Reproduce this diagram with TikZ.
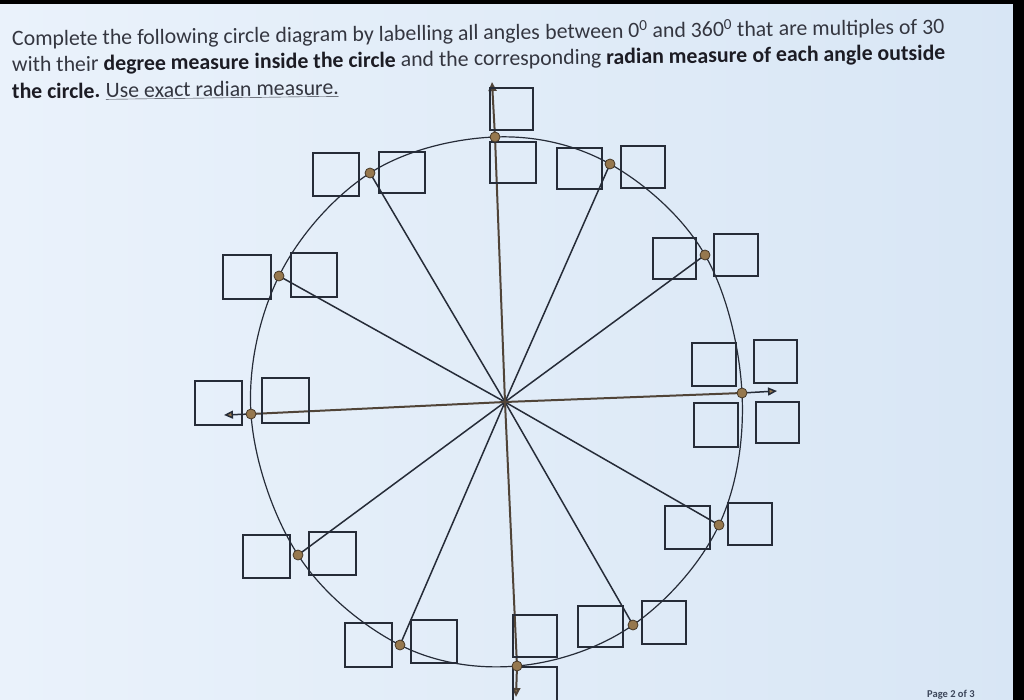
\documentclass[tikz,border=0pt]{standalone}
\usepackage{fontspec}
\setmainfont{Carlito}
\usetikzlibrary{arrows.meta}
\definecolor{paperL}{RGB}{234,242,251}
\definecolor{paperR}{RGB}{216,230,245}
\definecolor{inkN}{RGB}{52,54,64}
\definecolor{inkB}{RGB}{28,28,36}
\definecolor{lineC}{RGB}{38,44,56}
\definecolor{axisC}{RGB}{80,68,56}
\definecolor{dotF}{RGB}{150,120,78}
\definecolor{dotD}{RGB}{70,56,40}
\definecolor{pageC}{RGB}{60,70,90}
\tikzset{
  spoke/.style={draw=lineC, line width=1.5pt},
  rim/.style={draw=lineC, line width=1.2pt},
  axisline/.style={draw=axisC, line width=2pt},
  boxst/.style={draw=lineC, line width=2pt},
  dotst/.style={circle, fill=dotF, draw=dotD, line width=0.8pt, minimum size=10pt, inner sep=0pt},
  tipst/.style={-{Triangle[length=9pt,width=8pt,fill=dotF]}},
  txt/.style={anchor=base west, inner sep=0pt, rotate=0.75, font=\fontsize{21.8}{27}\selectfont, text=inkN},
  txtc/.style={txt, xshift=5pt}
}
\newcommand{\bd}[1]{\textbf{\color{inkB}#1}}
\begin{document}
\begin{tikzpicture}[x=1pt,y=-1pt]
\useasboundingbox (0,0) rectangle (1024,700);
\shade[left color=paperL, right color=paperR] (0,0) rectangle (1024,700);
\fill[black] (0,0) rectangle (1024,4);
\fill[black] (1013,0) rectangle (1024,700);

% text, line 1
\node[txt] (t1a) at (12,46) {Complete the following circle};
\node[txtc] (t1b) at (t1a.base east) {diagram by labelling all angles};
\node[txtc] (t1c) at (t1b.base east) {between 0\textsuperscript{0} and 360\textsuperscript{0} that};
\node[txtc] (t1d) at (t1c.base east) {are multiples of 30};
% line 2
\node[txt] (t2a) at (12,72) {with their \bd{degree measure}};
\node[txtc] (t2b) at (t2a.base east) {\bd{inside the circle} and the};
\node[txtc] (t2c) at (t2b.base east) {corresponding \bd{radian measure}};
\node[txtc] (t2d) at (t2c.base east) {\bd{of each angle outside}};
% line 3
\node[txt] (t3a) at (12,99) {\bd{the circle.}};
\node[txtc] (t3b) at (t3a.base east) {\underline{Use exact radian measure.}};

\node[anchor=base west, inner sep=0pt, font=\fontsize{10.5}{12}\selectfont\bfseries, text=pageC] (pg) at (927,697) {Page 2 of 3};

% points
\coordinate (c) at (505,402);
\coordinate (p0) at (742,393);
\coordinate (p30) at (705,255);
\coordinate (p60) at (610,164);
\coordinate (p90) at (495,137);
\coordinate (p120) at (370,173);
\coordinate (p150) at (279,276);
\coordinate (p180) at (251,414);
\coordinate (p210) at (298,555);
\coordinate (p240) at (400,645);
\coordinate (p270) at (517,666);
\coordinate (p300) at (633,625);
\coordinate (p330) at (719,525);
\coordinate (aT) at (492,82);
\coordinate (aB) at (516,697);
\coordinate (aL) at (224,415);
\coordinate (aR) at (777,391);

% rim
\draw[rim] plot[smooth cycle, tension=0.6] coordinates {(742,393) (705,255) (610,164) (495,137) (370,173) (279,276) (251,414) (298,555) (400,645) (517,666) (633,625) (719,525)};

% spokes
\foreach \a in {30,60,120,150,210,240,300,330} {\draw[spoke] (c) -- (p\a);}
% axes
\draw[axisline] (p90) -- (c) -- (p270);
\draw[axisline] (p180) -- (c) -- (p0);
\draw[axisline, tipst] (p90) -- (aT);
\draw[axisline, tipst] (p270) -- (aB);
\draw[spoke, tipst] (p180) -- (aL);
\draw[spoke, tipst] (p0) -- (aR);

% boxes
\draw[boxst] (490,88) rectangle (533,130);
\draw[boxst] (490,142) rectangle (536,183);
\draw[boxst] (313,153) rectangle (359,196);
\draw[boxst] (379,152) rectangle (425,193);
\draw[boxst] (557,148) rectangle (602,189);
\draw[boxst] (621,146) rectangle (665,188);
\draw[boxst] (223,255) rectangle (271,299);
\draw[boxst] (291,253) rectangle (337,297);
\draw[boxst] (195,381) rectangle (242,425);
\draw[boxst] (262,378) rectangle (309,423);
\draw[boxst] (653,238) rectangle (696,279);
\draw[boxst] (714,234) rectangle (758,276);
\draw[boxst] (692,343) rectangle (736,386);
\draw[boxst] (754,340) rectangle (797,383);
\draw[boxst] (694,403) rectangle (738,447);
\draw[boxst] (756,402) rectangle (799,443);
\draw[boxst] (665,506) rectangle (710,549);
\draw[boxst] (728,503) rectangle (772,545);
\draw[boxst] (243,535) rectangle (290,578);
\draw[boxst] (309,532) rectangle (356,575);
\draw[boxst] (345,623) rectangle (392,667);
\draw[boxst] (411,620) rectangle (457,663);
\draw[boxst] (513,615) rectangle (557,657);
\draw[boxst] (513,667) rectangle (557,712);
\draw[boxst] (578,606) rectangle (623,647);
\draw[boxst] (642,601) rectangle (686,644);

% dots
\foreach \a in {0,30,60,90,120,150,180,210,240,270,300,330} {\node[dotst] (d\a) at (p\a) {};}
\end{tikzpicture}
\end{document}
